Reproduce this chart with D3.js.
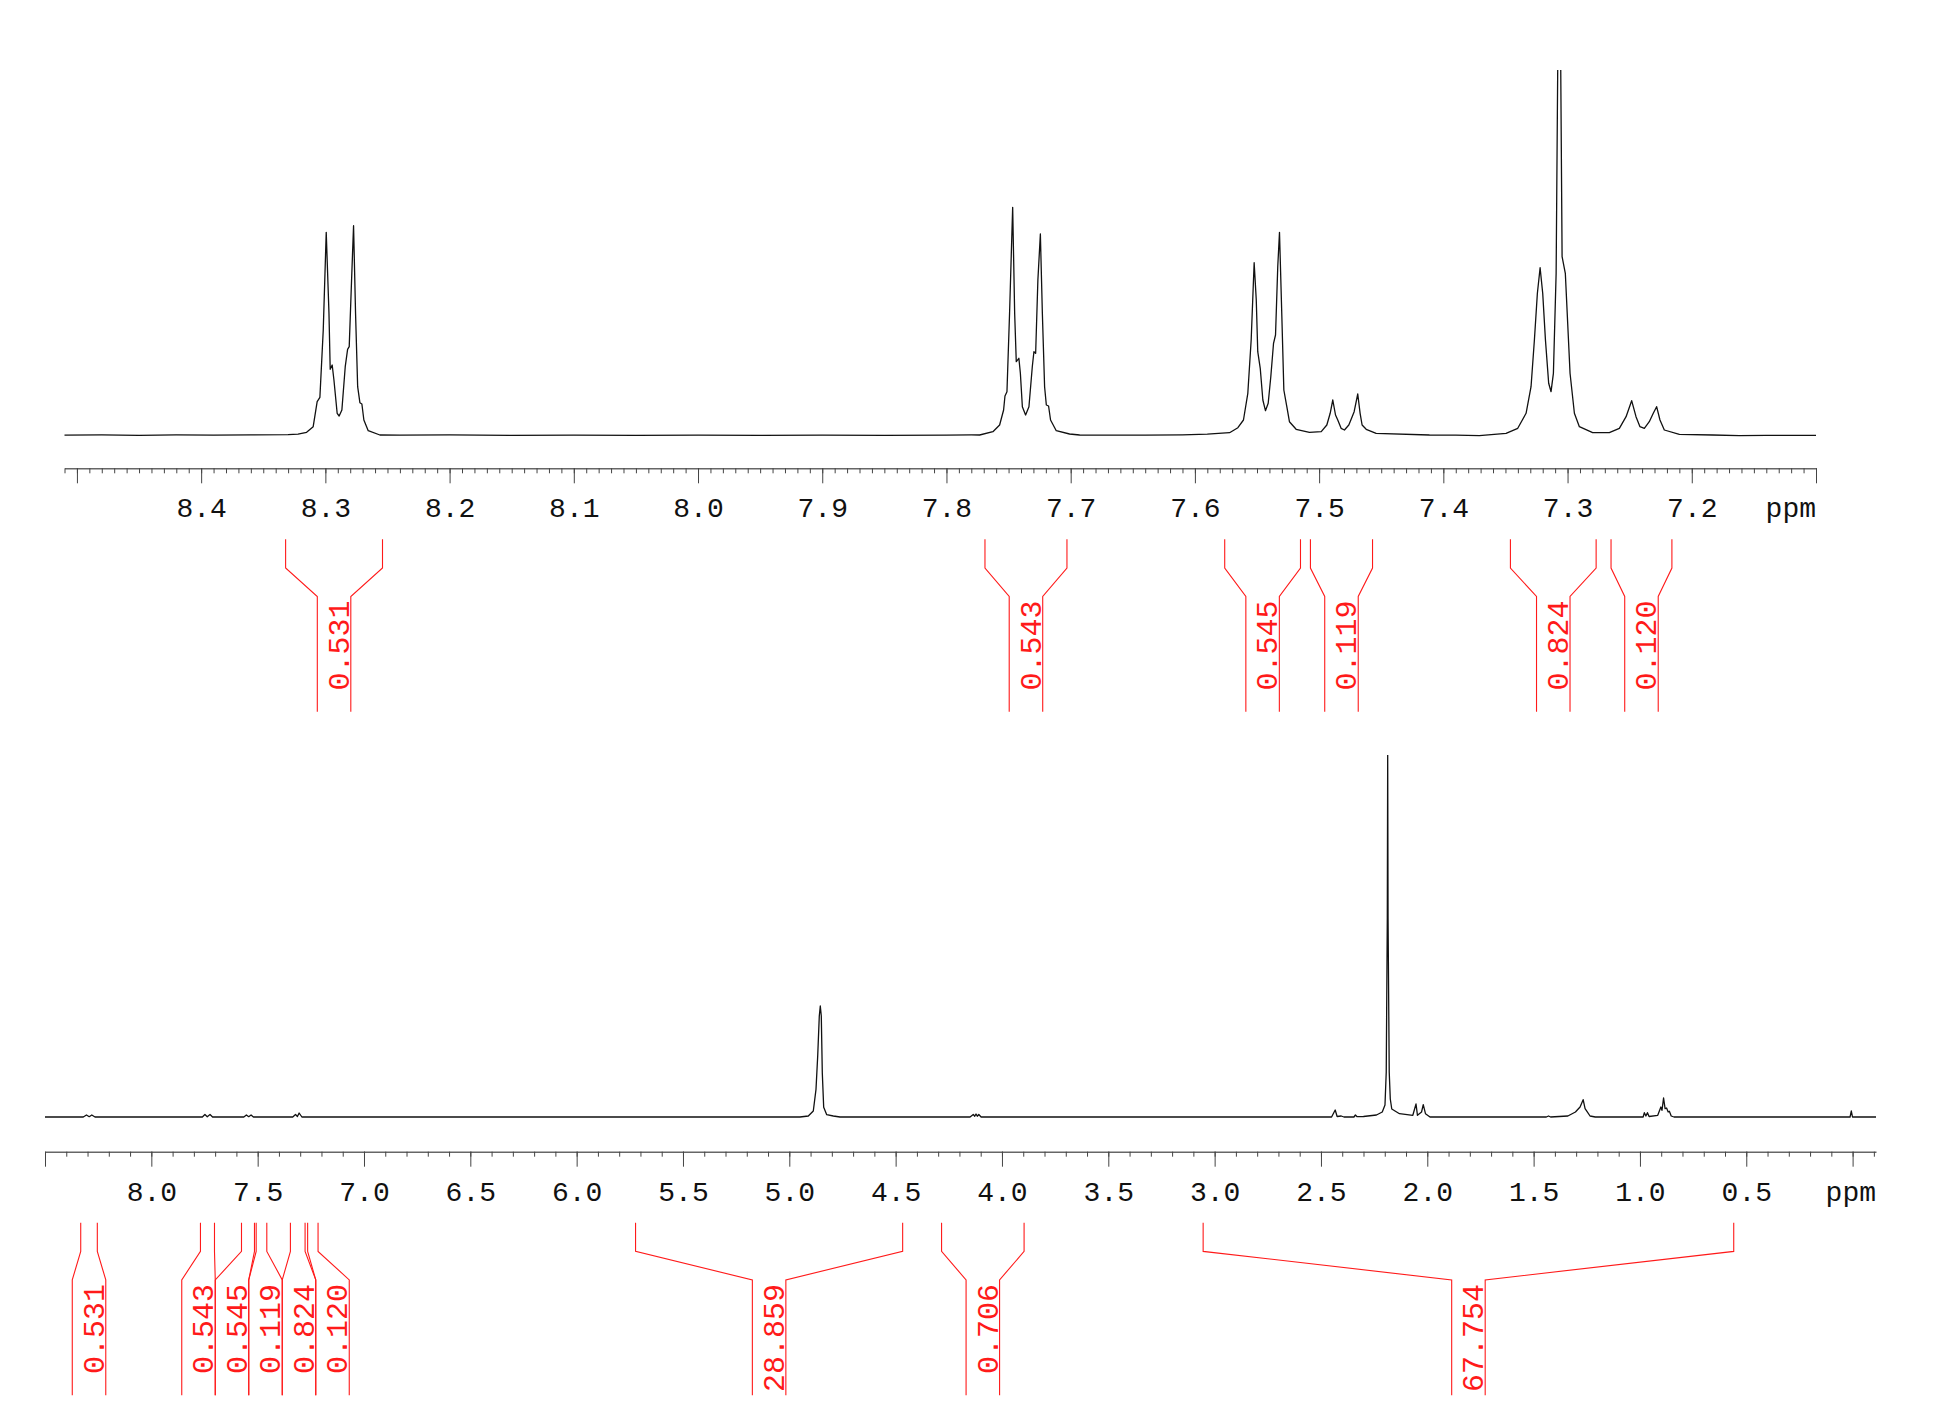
<!DOCTYPE html>
<html><head><meta charset="utf-8">
<script src="https://cdn.jsdelivr.net/npm/d3@7"></script>
<style>html,body{margin:0;padding:0;background:#fff;} svg{display:block;}</style>
</head><body>
<script>
// ---------------- DATA ----------------
// Expanded region spectrum (8.51 - 7.10 ppm), intensity in arbitrary units
const topPpm = [8.510,8.480,8.450,8.420,8.390,8.360,8.330,8.322,
  8.3151,8.3098,8.3066,8.3044,8.3017,8.2993,8.2971,8.2961,8.2945,8.2931,8.2905,8.2889,8.2867,8.2840,8.2821,8.2808,8.2789,8.2773,8.2757,8.2740,8.2722,8.2706,8.2690,8.2655,8.2561,
  8.240,8.200,8.150,8.100,8.050,8.000,7.950,7.900,7.850,7.800,7.780,
  7.7733,7.7626,7.7572,7.7540,7.7529,7.7513,7.7492,7.7467,7.7451,7.7438,7.7417,7.7405,7.7389,7.7363,7.7336,7.7309,7.7296,7.7282,7.7264,7.7244,7.7228,7.7210,7.7196,7.7178,7.7162,7.7116,7.7009,7.6928,
  7.670,7.640,7.610,7.590,
  7.5721,7.5654,7.5609,7.5574,7.5547,7.5523,7.5506,7.5494,7.5474,7.5453,7.5432,7.5410,7.5389,7.5367,7.5351,7.5333,7.5319,7.5300,7.5284,7.5260,7.5239,7.5185,7.5078,
  7.4983,7.4938,7.4911,7.4890,7.4868,7.4850,7.4823,7.4796,7.4761,7.4734,7.4718,7.4689,7.4670,7.4654,7.4621,7.4541,7.4112,7.390,
  7.3710,7.3495,7.3401,7.3334,7.3294,7.3267,7.3243,7.3221,7.3200,7.3178,7.3152,7.3133,7.3114,7.3092,7.3076,7.3058,7.3044,7.3018,7.2999,7.2980,7.2945,7.2905,7.2798,
  7.2664,7.2583,7.2529,7.2484,7.2449,7.2417,7.2382,7.2342,7.2310,7.2283,7.2256,7.2221,7.2100,7.1832,7.1617,7.140,7.100];
const topIntensity = [0.5,0.8,0.3,0.8,0.5,0.8,1.0,1.5,
  3.4,9,34,38.4,105.7,203.4,122.4,66.4,70.7,55.7,22.4,19.7,25.7,69,86.4,89,155.7,210,122.4,49,33,31.7,15.7,5,0.7,
  0.5,0.8,0.3,0.6,0.3,0.6,0.3,0.5,0.3,0.6,0.8,
  0.7,4,10.7,25.7,39.7,44,122.4,228.4,122.4,74,77.4,62.4,29,20.7,29,69,84,82.4,155.7,201.7,122.4,49,30.7,29.7,15.7,5,1.7,0.7,
  0.5,0.5,0.8,1.5,
  3,8,15.7,42.4,95.7,173,135.7,84,67.4,35.7,25,32.4,59,92.4,100.7,169,203.4,119,45.7,29,14,6.4,3.4,
  4,10.7,22.4,35.7,20.7,15.7,7.4,5.7,10.7,19,24,41.7,22.4,10.7,6.4,2.4,0.7,0.5,
  0,2.4,7.4,22.4,49,95.7,142.4,168,142.4,95.7,52.4,44,62.4,162.4,420,420,179,162.4,112.4,62.4,22.4,9,3,
  3,7.4,19,35,19,9,7.4,14,22.4,29,15.7,5.7,1.4,0.7,0,0.3,0.3];

// Full spectrum (8.5 - -0.11 ppm), intensity in arbitrary units
const bottomPpm = [8.500,8.320,8.305,8.292,8.280,8.265,
  7.760,7.748,7.737,7.724,7.712,
  7.565,7.553,7.542,7.531,7.520,
  7.335,7.322,7.313,7.305,7.292,
  4.950,4.9107,4.8872,4.8745,4.8665,4.8590,4.8543,4.8496,4.8449,4.8383,4.8241,4.7931,4.7615,
  4.150,4.135,4.128,4.122,4.116,4.109,4.098,
  2.450,2.433,2.424,2.405,2.392,2.345,2.338,2.330,2.300,2.239,2.2117,2.1989,2.1930,2.1880,2.1862,2.1845,2.1790,2.1740,2.1670,2.1307,2.0680,2.0530,2.0462,2.0270,2.0190,2.0085,1.9873,
  1.440,1.430,1.420,
  1.339,1.3033,1.2816,1.2671,1.2580,1.2492,1.2346,1.210,
  0.985,0.9793,0.9720,0.9647,0.9570,0.9163,0.9016,0.8964,0.8889,0.8818,0.8748,0.8673,0.8617,0.8530,0.840,
  0.012,0.006,0.0005,-0.110];
const bottomIntensity = [0,0,2,0.3,2,0,
  0,2.5,0.3,2.5,0,
  0,2,0.3,2,0,
  0,2.5,0.5,4,0,
  0,1,6,27.7,61,101,111,101,44.3,9.7,2.3,1,0,
  0,2.5,0.8,3,0.8,2.5,0,
  0,7,0.5,1,0,0,2,0.3,0.5,2,5,12,45,200,362,200,45,18,8,3.3,1.7,13,1.7,5,12.3,3.3,0,
  0,1,0,
  1,5,10,17.3,8.3,5.7,1,0,
  0,4.3,1,4.3,0.5,1.7,10,6.7,19,8.3,9,5,5.7,1,0,
  0,6,0,0];

const topTickLabels = ["8.4","8.3","8.2","8.1","8.0","7.9","7.8","7.7","7.6","7.5","7.4","7.3","7.2"];
const bottomTickLabels = ["8.0","7.5","7.0","6.5","6.0","5.5","5.0","4.5","4.0","3.5","3.0","2.5","2.0","1.5","1.0","0.5"];
const unitLabel = "ppm";

const integralValues = ["0.531","0.543","0.545","0.119","0.824","0.120","28.859","0.706","67.754"];
const integralStart  = [8.332, 7.769, 7.576, 7.507, 7.346, 7.265, 5.723, 4.284, 3.054];
const integralEnd    = [8.254, 7.703, 7.515, 7.457, 7.277, 7.216, 4.467, 3.896, 0.559];
const topIntegralIndex = [0,1,2,3,4,5];
const bottomIntegralIndex = [0,1,2,3,4,5,6,7,8];

// ---------------- LAYOUT ----------------
const W = 1935, H = 1416;
const svg = d3.select("body").append("svg").attr("width", W).attr("height", H);
svg.append("rect").attr("width", W).attr("height", H).attr("fill", "#fff");

const FONT = "'Courier New','Liberation Mono',monospace";

function panel(cfg) {
  const x = d3.scaleLinear().domain(cfg.xDomain).range(cfg.xRange);
  const y = d3.scaleLinear().domain(cfg.yDomain).range([cfg.yBase, cfg.yTop]);
  const g = svg.append("g");

  const clipId = "clip" + cfg.id;
  svg.append("clipPath").attr("id", clipId).append("rect")
    .attr("x", cfg.xRange[0] - 2).attr("y", cfg.yTop)
    .attr("width", cfg.xRange[1] - cfg.xRange[0] + 4).attr("height", cfg.yBase - cfg.yTop + 20);

  const pts = cfg.ppm.map((p, i) => [p, cfg.intensity[i]]);
  g.append("path").datum(pts)
    .attr("clip-path", `url(#${clipId})`)
    .attr("fill", "none").attr("stroke", "#111").attr("stroke-width", 1.3)
    .attr("stroke-linejoin", "round")
    .attr("d", d3.line().x(d => x(d[0])).y(d => y(d[1])));

  // minor ticks
  const minorAxis = d3.axisBottom(x).tickValues(cfg.minorTicks).tickSize(5).tickSizeOuter(0).tickFormat("");
  const gm = g.append("g").attr("transform", `translate(0,${cfg.axisY})`).call(minorAxis);
  gm.select(".domain").attr("stroke", "#666").attr("stroke-width", 1.4);
  gm.selectAll(".tick line").attr("stroke", "#444").attr("stroke-width", 1);

  // major ticks + labels
  const labelVals = cfg.labels.map(Number);
  const majorAxis = d3.axisBottom(x).tickValues(cfg.majorTicks).tickSize(15).tickSizeOuter(0)
    .tickFormat(v => {
      const k = labelVals.findIndex(l => Math.abs(l - v) < 1e-6);
      return k >= 0 ? cfg.labels[k] : "";
    });
  const ga = g.append("g").attr("transform", `translate(0,${cfg.axisY})`).call(majorAxis);
  ga.select(".domain").remove();
  ga.selectAll(".tick line").attr("stroke", "#444").attr("stroke-width", 1);
  ga.selectAll(".tick text").attr("y", 49).attr("dy", 0)
    .attr("font-family", FONT).attr("font-size", 28).attr("fill", "#111");

  g.append("text").attr("x", cfg.xRange[1]).attr("y", cfg.axisY + 49)
    .attr("text-anchor", "end").attr("font-family", FONT).attr("font-size", 28)
    .attr("fill", "#111").text(unitLabel);

  // integrals: bracket columns, de-overlapped by cluster merging
  const colW = 33.5;
  const items = cfg.integrals.map(i => {
    const xa = x(integralStart[i]), xb = x(integralEnd[i]);
    return { i, xa, xb, c: (xa + xb) / 2 };
  }).sort((a, b) => a.c - b.c);
  let clusters = items.map(it => ({ members: [it] }));
  const place = cl => {
    const m = d3.mean(cl.members, d => d.c);
    cl.left = m - cl.members.length * colW / 2;
    cl.right = cl.left + cl.members.length * colW;
  };
  clusters.forEach(place);
  let merged = true;
  while (merged) {
    merged = false;
    for (let k = 1; k < clusters.length; k++) {
      if (clusters[k].left < clusters[k - 1].right) {
        clusters[k - 1].members = clusters[k - 1].members.concat(clusters[k].members);
        clusters.splice(k, 1);
        place(clusters[k - 1]);
        merged = true;
        break;
      }
    }
  }
  const y0 = cfg.axisY + 71, y1 = cfg.axisY + 99.7, y2 = cfg.axisY + 128.2, y3 = cfg.axisY + 243.5;
  const gi = g.append("g");
  clusters.forEach(cl => {
    cl.members.forEach((it, k) => {
      const cL = cl.left + k * colW, cR = cL + colW;
      const p = d3.path();
      p.moveTo(it.xa, y0); p.lineTo(it.xa, y1); p.lineTo(cL, y2); p.lineTo(cL, y3);
      p.moveTo(it.xb, y0); p.lineTo(it.xb, y1); p.lineTo(cR, y2); p.lineTo(cR, y3);
      gi.append("path").attr("d", p.toString()).attr("fill", "none")
        .attr("stroke", "#ff1a1a").attr("stroke-width", 1.1);
      gi.append("text")
        .attr("transform", `translate(${cR - 2},${y2 + 4}) rotate(-90)`)
        .attr("text-anchor", "end")
        .attr("font-family", FONT).attr("font-size", 30).attr("fill", "#ff1a1a")
        .text(integralValues[it.i]);
    });
  });
}

panel({
  id: "top",
  ppm: topPpm, intensity: topIntensity,
  xDomain: [8.51, 7.10], xRange: [64.5, 1816],
  yDomain: [0, 365.7], yBase: 435.7, yTop: 70,
  axisY: 468.3,
  majorTicks: d3.range(85, 70, -1).map(v => v / 10),
  minorTicks: d3.range(851, 709, -1).map(v => v / 100),
  labels: topTickLabels,
  integrals: topIntegralIndex
});

panel({
  id: "bottom",
  ppm: bottomPpm, intensity: bottomIntensity,
  xDomain: [8.5, -0.11], xRange: [45, 1876],
  yDomain: [0, 362], yBase: 1117, yTop: 755,
  axisY: 1151.7,
  majorTicks: d3.range(17, -1, -1).map(v => v / 2),
  minorTicks: d3.range(85, -2, -1).map(v => v / 10),
  labels: bottomTickLabels,
  integrals: bottomIntegralIndex
});
</script>
</body></html>
